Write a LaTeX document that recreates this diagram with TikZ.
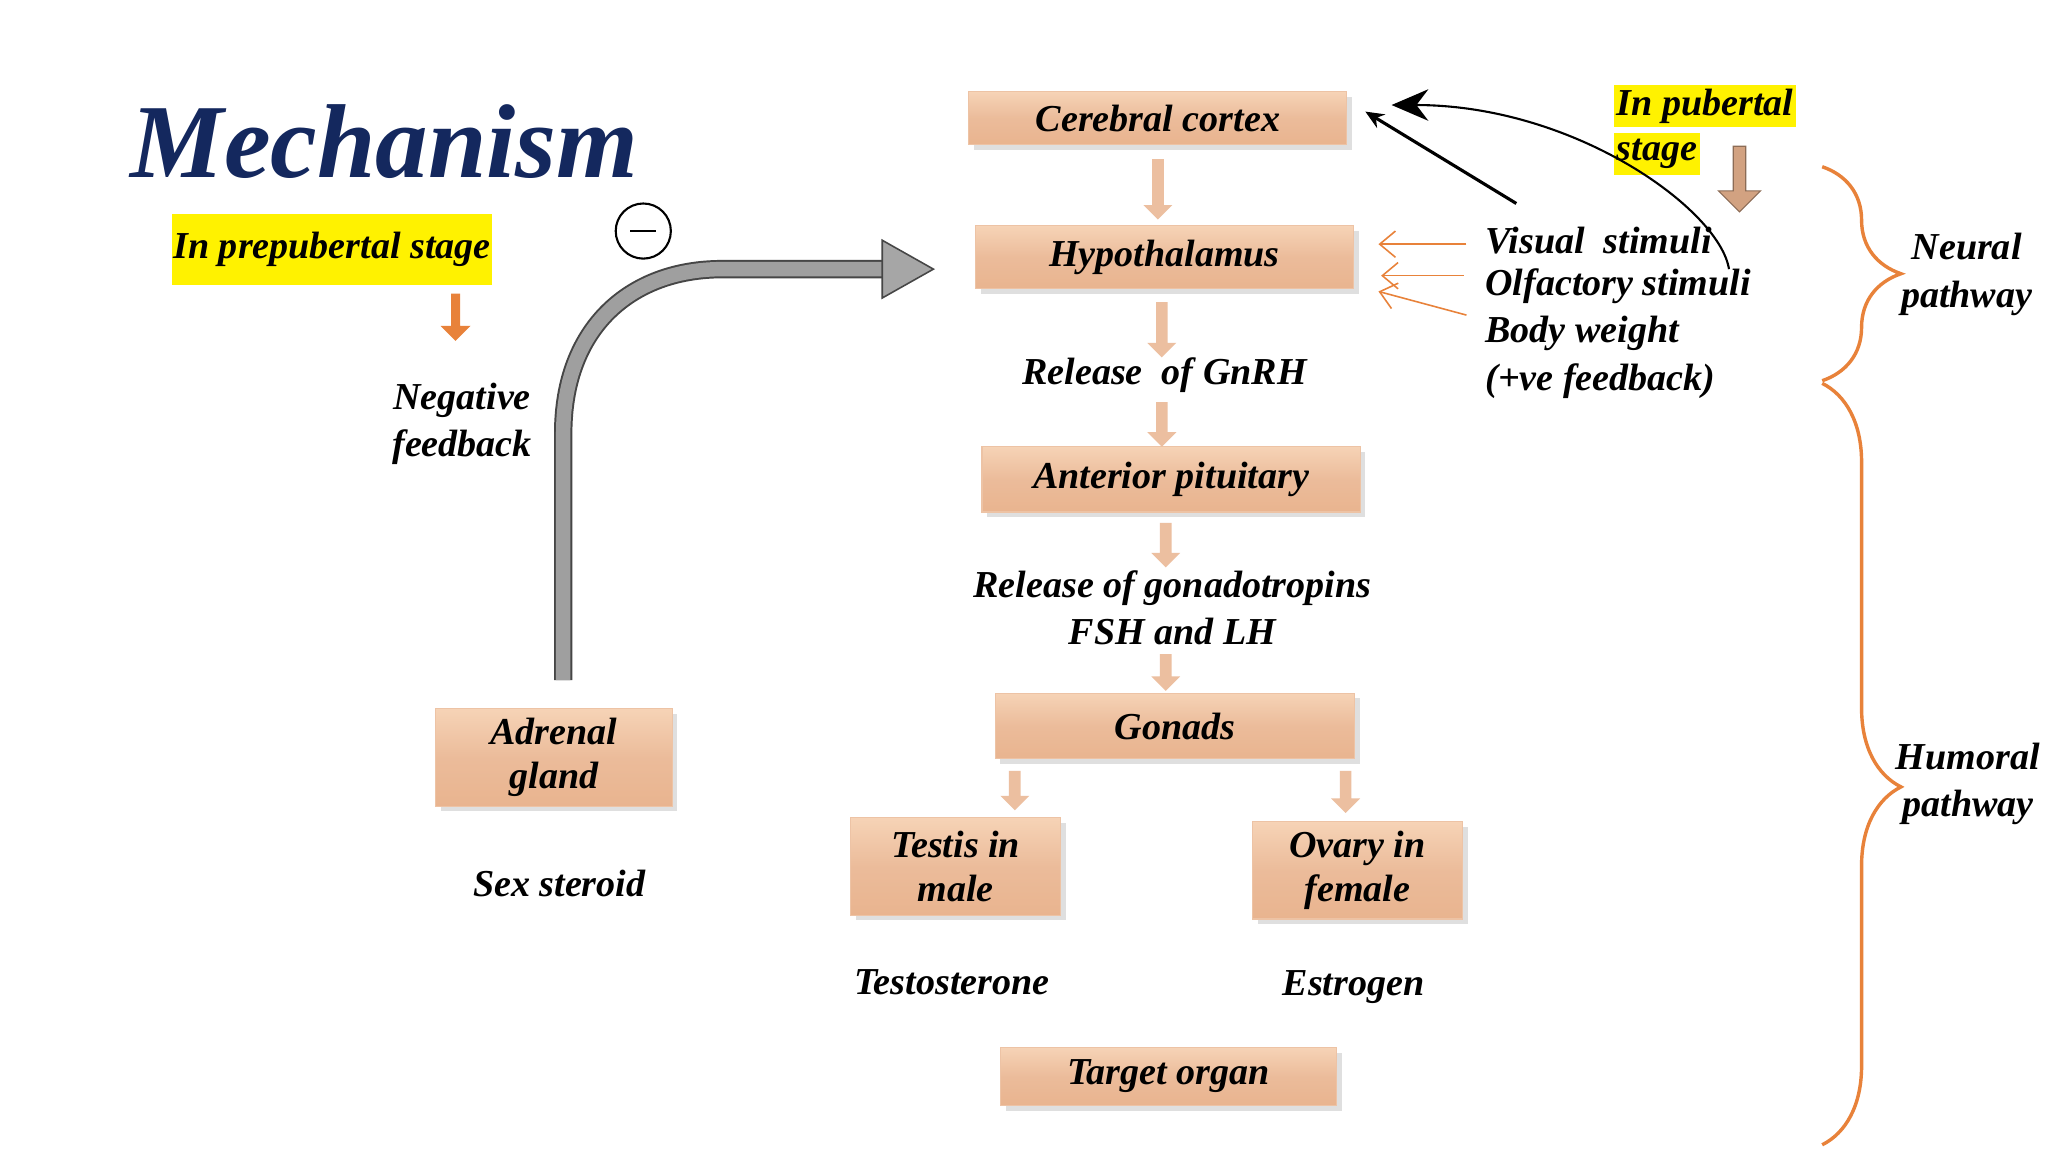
\documentclass[tikz,border=0pt]{standalone}
\usepackage{fontspec}
\setmainfont{Liberation Serif}
\usetikzlibrary{shadows,arrows.meta,decorations.pathreplacing,shapes.arrows}
\definecolor{peach}{HTML}{E9B48F}
\definecolor{peachL}{HTML}{F6D3B6}
\definecolor{navy}{HTML}{14285E}
\definecolor{org}{HTML}{E8823A}
\begin{document}
\begin{tikzpicture}[x=0.5pt,y=-0.5pt,
 pbox/.style={draw=peach!80!white,top color=peachL,bottom color=peach,middle color=peach!90!white,drop shadow={opacity=0.25,shadow xshift=2pt,shadow yshift=-2pt},font=\bfseries\itshape\fontsize{14.5}{17}\selectfont,align=center,inner sep=0pt},
 lbl/.style={font=\bfseries\itshape\fontsize{14.5}{18}\selectfont,align=center,inner sep=0pt},
 blk/.style={single arrow,shape border rotate=270,fill=peach!85!white,draw=none,minimum width=11pt,single arrow head extend=2.5pt,single arrow head indent=0pt,inner sep=1.5pt,minimum height=#1},
 sarr/.style={org,line width=0.6pt,-{Straight Barb[length=6pt,width=10pt]}}]
\useasboundingbox (0,0) rectangle (1560,877.5);
\fill[white] (0,0) rectangle (1560,877.5);
\node[font=\bfseries\itshape\fontsize{40}{44}\selectfont,text=navy] (mech) at (293,108) {Mechanism};
% boxes
\node[pbox,minimum width=144pt,minimum height=20pt] (cc) at (882,90) {Cerebral cortex};
\node[pbox,minimum width=144pt,minimum height=24pt] (hy) at (887,196) {Hypothalamus};
\node[pbox,minimum width=144pt,minimum height=25pt] (ap) at (892,365) {Anterior pituitary};
\node[pbox,minimum width=137pt,minimum height=25pt] (go) at (895,553) {Gonads};
\node[pbox,minimum width=80pt,minimum height=37pt] (te) at (728,660) {Testis in\\male};
\node[pbox,minimum width=80pt,minimum height=37pt] (ov) at (1034,663) {Ovary in\\female};
\node[pbox,minimum width=90pt,minimum height=37pt] (ad) at (422,577) {Adrenal\\gland};
\node[pbox,minimum width=128pt,minimum height=22pt] (tg) at (890,820) {Target organ};
% small block arrows
\node[blk=23pt] (a1) at (882,142) {};
\node[blk=21pt] (a2) at (885,249) {};
\node[blk=17pt] (a3) at (885,321) {};
\node[blk=17pt] (a4) at (888,413) {};
\node[blk=14pt] (a5) at (888,510) {};
\node[blk=15pt] (a6) at (773,600) {};
\node[blk=16pt] (a7) at (1025,601) {};
% labels
\node[lbl] (gn) at (887,286) {Release\ \ of GnRH};
\node[lbl] (gt) at (893,463) {Release of gonadotropins\\FSH and LH};
\node[lbl] (ss) at (426,673) {Sex steroid};
\node[lbl] (ts) at (725,748) {Testosterone};
\node[lbl] (es) at (1031,752) {Estrogen};
\node[lbl] (nf) at (352,323) {Negative\\feedback};
% prepubertal
\node[fill=yellow,font=\bfseries\itshape\fontsize{14.5}{18}\selectfont,minimum width=122pt,minimum height=27pt,inner sep=0pt] (pre) at (253,190) {In prepubertal stage};
\node[single arrow,shape border rotate=270,fill=org,minimum width=8pt,single arrow head extend=4pt,single arrow head indent=0pt,inner sep=1.5pt,minimum height=18pt] (pa) at (347,240) {};
% minus circle
\node[circle,draw,line width=0.8pt,minimum size=21pt,inner sep=0pt] (mc) at (490,176) {};
\draw[line width=1pt] (mc.center)++(-10,0) -- ++(20,0);
% gray arrow
\coordinate (gs) at (429,518);
\coordinate (ge) at (672,205);
\node[coordinate] (gtip) at (711,205) {};
\draw[gray!55!black,line width=7pt] (gs) -- (429,330) .. controls (429,250) and (480,205) .. (550,205) -- (ge);
\draw[gray!75!white,line width=5.5pt] (gs) -- (429,330) .. controls (429,250) and (480,205) .. (550,205) -- (ge);
\fill[gray!70!white,draw=gray!55!black,line width=0.6pt] (672,183) -- (gtip) -- (672,227) -- cycle;
% pubertal
\node[fill=yellow,font=\bfseries\itshape\fontsize{14.5}{18}\selectfont,inner sep=1pt,anchor=west,minimum height=16pt] (pub1) at (1229,81) {In pubertal};
\node[fill=yellow,font=\bfseries\itshape\fontsize{14.5}{18}\selectfont,inner sep=1pt,anchor=west,minimum height=16pt] (pub2) at (1229,117) {stage};
\node[single arrow,shape border rotate=270,fill=peach!90!black,draw=peach!60!black,line width=0.4pt,minimum width=16pt,single arrow head extend=4pt,single arrow head indent=0pt,inner sep=1.5pt,minimum height=25pt] (pba) at (1325,134) {};
% stimuli
\node[lbl,anchor=west] (vs) at (1131,183) {Visual\ \ stimuli};
\node[lbl,anchor=west] (os) at (1131,218) {Olfactory stimuli};
\node[lbl,anchor=west] (bw) at (1131,254) {Body weight};
\node[lbl,anchor=west] (fb) at (1131,290) {(+ve feedback)};
\coordinate (s1) at (1117,186); \coordinate (t1) at (1050,186);
\coordinate (s2) at (1115,210); \coordinate (t2) at (1052,210);
\coordinate (s3) at (1117,240); \coordinate (t3) at (1050,222);
\draw[sarr] (s1) -- (t1);
\draw[sarr] (s2) -- (t2);
\draw[sarr] (s3) -- (t3);
% black arrows
\coordinate (b1) at (1155,155); \coordinate (b1e) at (1040,85);
\draw[line width=1.2pt,-{Stealth[length=7pt,width=6pt]}] (b1) -- (b1e);
\coordinate (c1) at (1317,205); \coordinate (c1e) at (1060,80);
\draw[line width=0.8pt,-{Stealth[length=14pt,width=12pt]}] (c1) .. controls (1310,160) and (1200,80) .. (c1e);
% braces
\coordinate (n1) at (1388,127); \coordinate (n2) at (1388,290);
\coordinate (h1) at (1388,292); \coordinate (h2) at (1388,872);
\draw[org,line width=1.3pt,decorate,decoration={brace,amplitude=30pt}] (n1) -- (n2);
\draw[org,line width=1.3pt,decorate,decoration={brace,amplitude=30pt,aspect=0.53}] (h1) -- (h2);
\node[lbl] (np) at (1498,209) {Neural\\pathway};
\node[lbl] (hp) at (1499,597) {Humoral\\pathway};
\end{tikzpicture}
\end{document}
